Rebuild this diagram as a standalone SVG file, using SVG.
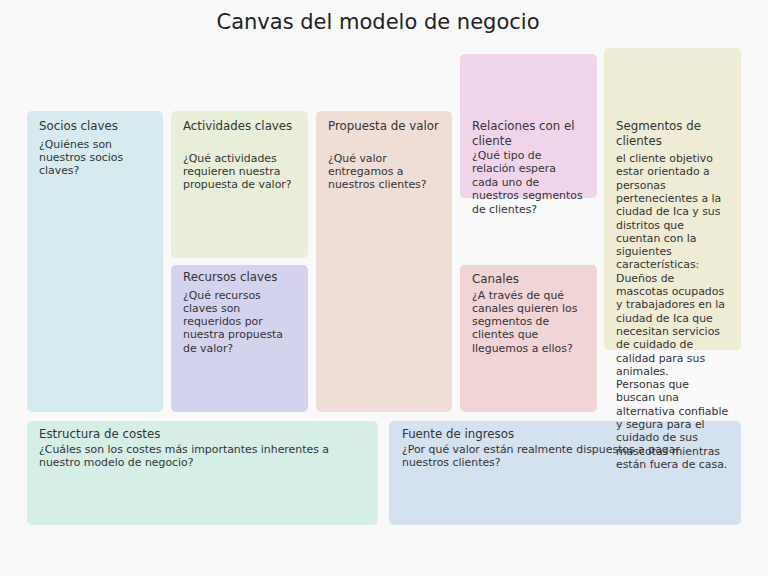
<svg xmlns="http://www.w3.org/2000/svg" width="768" height="576" viewBox="0 0 768 576">
<style>
text{font-family:"DejaVu Sans",sans-serif;fill:#333}
.h{font-size:11.8px}
.b{font-size:10.9px}
.t{font-size:21px;fill:#222}
</style>
<rect width="768" height="576" fill="#f9f9f9"/>
<text class="t" x="378" y="29" text-anchor="middle">Canvas del modelo de negocio</text>
<g id="socios"><rect x="27" y="111" width="136" height="301" rx="5" fill="#d5ebf0"/>
<text class="h" x="39" y="130">Socios claves</text>
<text class="b" x="39" y="148">¿Quiénes son</text><text class="b" x="39" y="161">nuestros socios</text><text class="b" x="39" y="174">claves?</text></g>
<g id="actividades"><rect x="171" y="111" width="137" height="147" rx="5" fill="#e8eed7"/>
<text class="h" x="183" y="130">Actividades claves</text>
<text class="b" x="183" y="162">¿Qué actividades</text><text class="b" x="183" y="175">requieren nuestra</text><text class="b" x="183" y="188">propuesta de valor?</text></g>
<g id="recursos"><rect x="171" y="265" width="137" height="147" rx="5" fill="#d4d3ee"/>
<text class="h" x="183" y="281">Recursos claves</text>
<text class="b" x="183" y="299">¿Qué recursos</text><text class="b" x="183" y="312">claves son</text><text class="b" x="183" y="325">requeridos por</text><text class="b" x="183" y="338">nuestra propuesta</text><text class="b" x="183" y="352">de valor?</text></g>
<g id="propuesta"><rect x="316" y="111" width="136" height="301" rx="5" fill="#efded6"/>
<text class="h" x="328" y="130">Propuesta de valor</text>
<text class="b" x="328" y="162">¿Qué valor</text><text class="b" x="328" y="175">entregamos a</text><text class="b" x="328" y="188">nuestros clientes?</text></g>
<g id="relaciones"><rect x="460" y="54" width="137" height="144" rx="5" fill="#f0d5ea"/>
<text class="h" x="472" y="130">Relaciones con el</text><text class="h" x="472" y="145">cliente</text>
<text class="b" x="472" y="159">¿Qué tipo de</text><text class="b" x="472" y="172">relación espera</text><text class="b" x="472" y="186">cada uno de</text><text class="b" x="472" y="199">nuestros segmentos</text><text class="b" x="472" y="213">de clientes?</text></g>
<g id="canales"><rect x="460" y="265" width="137" height="147" rx="5" fill="#f0d4d6"/>
<text class="h" x="472" y="283">Canales</text>
<text class="b" x="472" y="299">¿A través de qué</text><text class="b" x="472" y="312">canales quieren los</text><text class="b" x="472" y="325">segmentos de</text><text class="b" x="472" y="338">clientes que</text><text class="b" x="472" y="352">lleguemos a ellos?</text></g>
<g id="costes"><rect x="27" y="421" width="351" height="104" rx="5" fill="#d5efe6"/>
<text class="h" x="39" y="438">Estructura de costes</text>
<text class="b" x="39" y="453">¿Cuáles son los costes más importantes inherentes a</text><text class="b" x="39" y="466">nuestro modelo de negocio?</text></g>
<g id="fuente"><rect x="389" y="421" width="352" height="104" rx="5" fill="#d4e1ef"/>
<text class="h" x="402" y="438">Fuente de ingresos</text>
<text class="b" x="402" y="453">¿Por qué valor están realmente dispuestos a pagar</text><text class="b" x="402" y="466">nuestros clientes?</text></g>
<g id="segmentos"><rect x="604" y="48" width="137" height="302" rx="5" fill="#eeecd4"/>
<text class="h" x="616" y="130">Segmentos de</text><text class="h" x="616" y="145">clientes</text>
<text class="b" x="616"><tspan x="616" y="162">el cliente objetivo</tspan><tspan x="616" y="175.3">estar orientado a</tspan><tspan x="616" y="188.6">personas</tspan><tspan x="616" y="201.9">pertenecientes a la</tspan><tspan x="616" y="215.2">ciudad de Ica y sus</tspan><tspan x="616" y="228.5">distritos que</tspan><tspan x="616" y="241.8">cuentan con la</tspan><tspan x="616" y="255.1">siguientes</tspan><tspan x="616" y="268.4">características:</tspan><tspan x="616" y="281.7">Dueños de</tspan><tspan x="616" y="295">mascotas ocupados</tspan><tspan x="616" y="308.3">y trabajadores en la</tspan><tspan x="616" y="321.6">ciudad de Ica que</tspan><tspan x="616" y="334.9">necesitan servicios</tspan><tspan x="616" y="348.2">de cuidado de</tspan><tspan x="616" y="361.5">calidad para sus</tspan><tspan x="616" y="374.8">animales.</tspan><tspan x="616" y="388.1">Personas que</tspan><tspan x="616" y="401.4">buscan una</tspan><tspan x="616" y="414.7">alternativa confiable</tspan><tspan x="616" y="428">y segura para el</tspan><tspan x="616" y="441.3">cuidado de sus</tspan><tspan x="616" y="454.6">mascotas mientras</tspan><tspan x="616" y="467.9">están fuera de casa.</tspan></text></g>
</svg>
